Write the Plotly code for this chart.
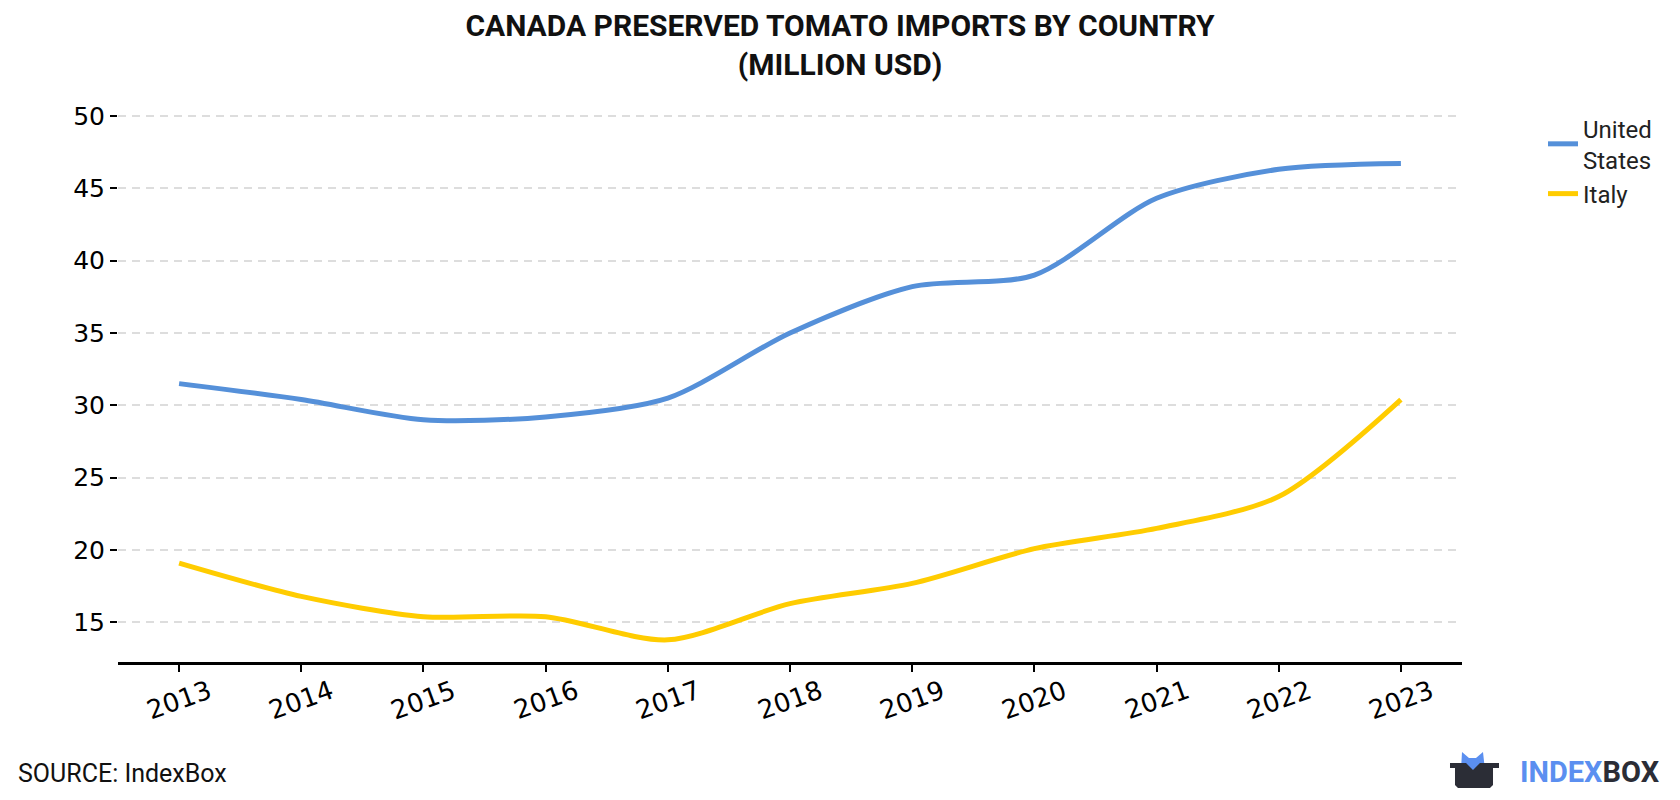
import plotly.graph_objects as go

years = [2013, 2014, 2015, 2016, 2017, 2018, 2019, 2020, 2021, 2022, 2023]
united_states = [31.5, 30.4, 29.0, 29.2, 30.5, 35.0, 38.2, 39.0, 44.3, 46.3, 46.7]
italy = [19.1, 16.8, 15.4, 15.4, 13.8, 16.3, 17.7, 20.1, 21.5, 23.7, 30.4]
tick_vals = [15, 20, 25, 30, 35, 40, 45, 50]

W, H = 1680, 800
Y0, Y1 = 12.27, 50.4
L, R, B = 118, 1462, 662
PX_PER_UNIT = (622.5 - 115.7) / 35
T = B - (Y1 - Y0) * PX_PER_UNIT


def px(x):
    return (x - L) / (R - L)


def py(y):
    return (B - y) / (B - T)


fig = go.Figure()
fig.add_trace(go.Scatter(x=years, y=united_states, name="United<br>States", mode="lines",
                         line=dict(color="#5590D9", width=5, shape="spline", smoothing=0.8)))
fig.add_trace(go.Scatter(x=years, y=italy, name="Italy", mode="lines",
                         line=dict(color="#FFCC00", width=5, shape="spline", smoothing=0.8)))

fig.update_layout(
    width=W, height=H,
    margin=dict(l=L, r=W - R, t=T, b=H - B),
    paper_bgcolor="white", plot_bgcolor="white",
    title=dict(text="<b>CANADA PRESERVED TOMATO IMPORTS BY COUNTRY<br>(MILLION USD)</b>",
               x=0.5, xref="container", xanchor="center", y=1 - 36 / H, yanchor="middle",
               font=dict(family="Roboto", size=30, color="#111")),
    legend=dict(x=px(1543), y=py(106), xanchor="left", yanchor="top",
                font=dict(family="Roboto", size=24, color="#222"),
                tracegroupgap=6, itemwidth=30),
    showlegend=True,
    xaxis=dict(range=[2012.5, 2023.5], tickmode="array", tickvals=years,
               ticktext=["" for y in years],
               showline=True, linecolor="black", linewidth=2.5,
               ticks="outside", ticklen=7, tickwidth=2, tickcolor="black",
               showgrid=False, zeroline=False),
    yaxis=dict(range=[Y0, Y1], tickmode="array", tickvals=tick_vals,
               showline=False, ticks="outside", ticklen=7, tickwidth=2, tickcolor="black",
               showgrid=True, gridcolor="#dddddd", gridwidth=2, griddash="8px,6px",
               zeroline=False,
               tickfont=dict(family="DejaVu Sans", size=25, color="black")),
)

for yr in years:
    fig.add_annotation(text=str(yr), xref="x", yref="paper", x=yr, y=py(700),
                       xanchor="center", yanchor="middle", textangle=-20, showarrow=False,
                       font=dict(family="DejaVu Sans", size=26, color="black"))

fig.add_annotation(text="SOURCE: IndexBox", xref="paper", yref="paper",
                   x=px(16), y=py(774), xanchor="left", yanchor="middle", showarrow=False,
                   font=dict(family="Roboto", size=25, color="#111"))

# logo
def path(points):
    s = "M " + " L ".join(f"{px(a):.5f},{py(b):.5f}" for a, b in points) + " Z"
    return s

fig.add_shape(type="path", xref="paper", yref="paper", line=dict(width=0),
              fillcolor="#5B8FF0",
              path=path([(1461, 770), (1462, 752), (1469, 758), (1476, 758), (1483, 752), (1485, 770)]))
fig.add_shape(type="path", xref="paper", yref="paper", line=dict(width=0),
              fillcolor="#2B2D36",
              path=path([(1450, 763), (1466, 763), (1473, 770), (1480, 763), (1499, 763),
                         (1499, 768), (1493, 768), (1493, 785), (1490, 788), (1458, 788),
                         (1455, 785), (1455, 768), (1450, 768)]))
fig.add_annotation(text="<b><span style='color:#5B8FF0'>INDEX</span>BOX</b>", xref="paper", yref="paper",
                   x=px(1518), y=py(772), xanchor="left", yanchor="middle", showarrow=False,
                   font=dict(family="Roboto", size=29, color="#2B2D36"))

fig.write_html("out.html")
